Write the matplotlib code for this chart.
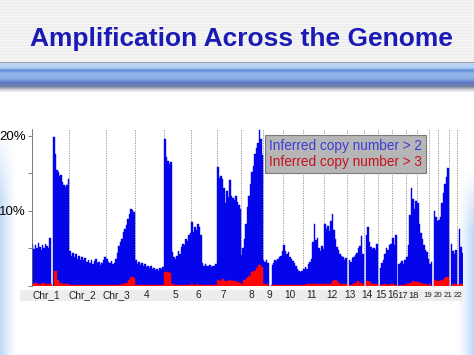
import numpy as np
import matplotlib
matplotlib.use("Agg")
import matplotlib.pyplot as plt
from matplotlib.patches import Rectangle

plt.rcParams["font.family"] = ["Liberation Sans", "DejaVu Sans"]

# chromosome names and relative lengths (probe-count units)
chrom_names = ["Chr_1", "Chr_2", "Chr_3", "4", "5", "6", "7", "8", "9", "10", "11",
               "12", "13", "14", "15", "16", "17", "18", "19", "20", "21", "22"]
chrom_len = [37, 37, 29, 29, 27, 26, 24, 22, 20, 20, 21, 23, 17, 14, 14, 14, 11, 12, 9, 11, 8, 6]
label_at = [14, 50, 84, 115, 143, 166, 191, 219, 237, 258, 280, 300, 318, 335, 349, 361,
            371, 382, 396, 406, 416, 426]

nan = np.nan
# % of samples with inferred copy number > 2, along each chromosome
cn_gt2 = [
    [5.6, 4.9, 5.4, 5.0, 5.7, 5.2, 4.8, 5.5, 5.1, 5.6, 5.3, 5.0, 6.4, nan, nan,
     19.8, 17.6, 15.4, 15.2, 14.6, 14.8, 13.8, 13.5, 13.2, 13.4, 14.2],
    [4.6, 4.0, 4.4, 3.9, 4.2, 3.6, 4.0, 3.5, 3.8, 3.4, 3.7, 3.2, 3.5, 3.0, 3.4, 2.9,
     3.3, 3.6, 3.0, 3.2, 2.8, 3.1, 3.5, 3.8],
    [3.6, 3.2, 3.0, 3.3, 2.9, 3.1, 3.6, 4.4, 5.3, 5.9, 6.3, 7.2, 7.6, 8.1, 8.9, 9.6,
     10.3, 10.1, 9.8],
    [3.4, 2.9, 3.2, 2.8, 3.0, 2.6, 2.9, 2.5, 2.7, 2.4, 2.6, 2.2, 2.4, 2.1, 2.3, 2.0,
     2.4, 2.2, 2.5],
    [19.6, 17.2, 16.6, 16.2, 16.5, 4.5, 3.8, 3.6, 4.0, 4.6, 4.3, 5.2, 5.6, 5.4, 6.2,
     6.0, 6.8, 7.0],
    [8.5, 7.2, 7.8, 7.4, 8.2, 7.9, 6.8, 3.0, 2.6, 2.9, 2.7, 2.6, 2.8, 2.5, 2.7, 2.6, 2.9],
    [15.9, 14.4, 14.6, 14.2, 13.1, 11.1, 12.6, 11.8, 14.1, 12.0, 11.7, 11.5, 12.0,
     11.2, 10.8, 10.2],
    [4.1, 5.0, 6.2, 8.3, 10.5, 12.0, 13.6, 15.2, 16.0, 17.6, 18.4, 19.0, 20.8, 19.6, 17.5],
    [3.4, 3.2, 3.5, 3.0, nan, nan, 2.8, 3.1, 3.4, 3.3, 3.6, 3.8, 4.0, 4.6],
    [5.4, 4.6, 4.2, 4.5, 3.8, 3.6, 3.3, 3.0, 2.6, 2.3, 2.0, 1.8, 2.0],
    [2.2, 2.5, 2.3, 2.9, 3.2, 3.6, 5.8, 8.3, 6.1, 6.4, 5.0, 4.6, 5.3, 4.9],
    [8.2, 7.6, 8.0, 7.3, 8.7, 9.6, 7.5, 6.2, 5.2, 4.8, 4.3, 4.0, 3.8, 3.5, 3.7],
    [nan, 3.4, 3.2, 3.7, 3.9, 4.1, 4.4, 5.0, 5.3, 6.6, 4.2],
    [nan, 6.8, 7.9, 5.8, 5.2, 4.9, 5.1, 4.8, 5.6],
    [nan, 2.4, 3.0, 3.5, 4.3, 5.1, 4.8, 5.4, 5.6],
    [6.4, 5.5, 6.8, nan, 2.9, 3.1, 3.3, 2.9, 3.4],
    [3.8, 5.5, 9.5, 13.0, 11.6, 10.2, 11.3],
    [11.0, 8.3, 7.0, 6.2, 5.4, 4.8, 4.5, 3.6],
    [2.9, 3.2, nan, 10.0, 9.2, 8.6],
    [8.8, 9.2, 11.0, 12.4, 13.6, 14.5, 15.7],
    [nan, 5.6, 4.6, 4.2, 4.8],
    [nan, 7.6, 5.2, 4.4],
]
# % of samples with inferred copy number > 3
cn_gt3 = [
    [0.3, 0.4, 0.3, 0.3, 0.4, 0.3, 0.3, 0.3, nan, 2.0, 0.8, 0.4, 0.3, 0.2, 0.3],
    [0.15, 0.1, 0.15, 0.1, 0.1, 0.15, 0.1, 0.1, 0.1, 0.15, 0.1, 0.1, 0.1, 0.1, 0.15],
    [0.1, 0.1, 0.1, 0.1, 0.15, 0.15, 0.2, 0.3, 0.4, 0.8, 1.2, 1.1],
    [0.1, 0.15, 0.1, 0.1, 0.1, 0.1, 0.15, 0.1, 0.1, 0.1, 0.1, 0.1],
    [1.9, 1.8, 1.7, 0.2, 0.1, 0.1, 0.1, 0.1, 0.15, 0.1, 0.1],
    [0.2, 0.15, 0.2, 0.1, 0.1, 0.1, 0.15, 0.1, 0.1, 0.1, 0.1],
    [0.8, 0.7, 0.9, 0.6, 0.7, 0.8, 0.6, 0.7, 0.5, 0.4],
    [0.2, 0.8, 1.0, 1.3, 1.8, 2.0, 2.4, 2.8, 2.5],
    [0.3, 0.2, nan, 0.1, 0.1, 0.1, 0.1, 0.1],
    [0.1, 0.1, 0.1, 0.1, 0.1, 0.1, 0.1, 0.1],
    [0.1, 0.2, 0.2, 0.3, 0.2, 0.2, 0.3, 0.2],
    [0.2, 0.2, 0.3, 0.6, 0.8, 0.5, 0.3, 0.2, 0.2],
    [nan, 0.1, 0.2, 0.4, 0.6, 0.4, 0.2],
    [nan, 0.6, 0.5, 0.3, 0.2, 0.2],
    [nan, 0.1, 0.2, 0.2, 0.1, 0.2],
    [0.2, 0.1, nan, 0.1, 0.1, 0.1],
    [0.2, 0.4, 0.6, 0.5],
    [0.5, 0.4, 0.3, 0.2, 0.1],
    [0.2, nan, 0.8, 0.7],
    [0.7, 0.8, 1.0, 1.2],
    [nan, 0.2, 0.2],
    [0.1, 0.2],
]

W, H = 474, 355
BLUE = "#0505ec"
RED = "#ff0505"

# ---- slide background ----
bg = np.ones((H, W, 3))
for y in range(62):
    bg[y, :] = 0.96 if y % 3 else 0.925
stops_y = [62, 63, 67, 70, 73, 78, 82, 86, 89, 92]
stops_c = np.array([[0.62, 0.62, 0.66], [0.74, 0.84, 0.96], [0.70, 0.81, 0.95],
                    [0.38, 0.56, 0.86], [0.58, 0.72, 0.92], [0.55, 0.68, 0.90],
                    [0.36, 0.48, 0.78], [0.45, 0.50, 0.62], [0.80, 0.80, 0.82],
                    [1.0, 1.0, 1.0]])
for y in range(62, 92):
    for k in range(3):
        bg[y, :, k] = np.interp(y, stops_y, stops_c[:, k])
glow = np.array([0.70, 0.82, 0.96])
xs = np.arange(W)
for y in range(95, H):
    left_on = np.clip((y - 130) / 80, 0, 1)
    right_on = np.clip((y - 170) / 60, 0, 1)
    aL = left_on * np.clip(1 - xs / 16, 0, 1) ** 1.3 * 0.85
    aR = right_on * np.clip(1 - (W - 1 - xs) / 16, 0, 1) ** 1.3 * 0.85
    a = np.maximum(aL, aR)[:, None]
    bg[y] = bg[y] * (1 - a) + glow * a

fig = plt.figure(figsize=(W / 100, H / 100), dpi=100)
bgax = fig.add_axes([0, 0, 1, 1])
bgax.imshow(bg, extent=(0, W, H, 0), aspect="auto", interpolation="nearest")
bgax.set_xlim(0, W)
bgax.set_ylim(H, 0)
bgax.axis("off")
bgax.text(241, 39, "Amplification Across the Genome", ha="center", va="center",
          fontsize=19, fontweight="bold", color="#1a1ab4")
bgax.add_patch(Rectangle((20, 290), 443, 11, color="#ededed", lw=0))

# ---- chart ----
ax = fig.add_axes([32 / W, 1 - 286 / H, 431 / W, 157 / H])
ax.patch.set_alpha(0)
starts = np.concatenate([[0], np.cumsum(chrom_len)[:-1]])
total = sum(chrom_len)

for b in np.cumsum(chrom_len)[:-1]:
    ax.axvline(b, color="#8a8a8a", ls=(0, (1.5, 1.5)), lw=0.6, zorder=1)

for series, col in [(cn_gt2, BLUE), (cn_gt3, RED)]:
    for s, L, vals in zip(starts, chrom_len, series):
        n = len(vals)
        w = L / n
        ax.bar(s + np.arange(n) * w, vals, width=w, align="edge", color=col,
               edgecolor=col, lw=0.3, zorder=2)

ax.set_xlim(0, total)
ax.set_ylim(0, 20.93)
for side in ["top", "right", "bottom"]:
    ax.spines[side].set_visible(False)
ax.spines["left"].set_color("#666666")
ax.spines["left"].set_linewidth(0.6)
ax.set_xticks([])
ax.set_yticks([0, 5, 10, 15, 20])
ax.set_yticklabels(["", "", "10%", "", "20%"], fontsize=9.5)
ax.tick_params(axis="y", length=3, width=0.6, color="#666666", pad=1.5)

for name, pos in zip(chrom_names, label_at):
    if name in ("19", "20", "21", "22"):
        fs = 5.6
    elif name in ("17", "18"):
        fs = 6.8
    else:
        fs = 7.3
    ax.text(pos, -0.06, name, transform=ax.get_xaxis_transform(), ha="center",
            va="center", fontsize=fs, color="#222222")

h1 = Rectangle((0, 0), 1, 1, alpha=0)
leg = ax.legend([h1, h1], ["Inferred copy number > 2", "Inferred copy number > 3"],
                loc="upper left", bbox_to_anchor=(0.541, 0.962), borderaxespad=0,
                handlelength=0, handletextpad=0, fontsize=9.8, fancybox=False,
                framealpha=1, facecolor="#b6b6b6", edgecolor="#7a7a7a",
                borderpad=0.3, labelspacing=0.12)
leg.get_frame().set_linewidth(0.8)
for t, c in zip(leg.get_texts(), ["#3c3cd8", "#c81020"]):
    t.set_color(c)
leg.set_zorder(5)

fig.savefig("out.png", dpi=100)
